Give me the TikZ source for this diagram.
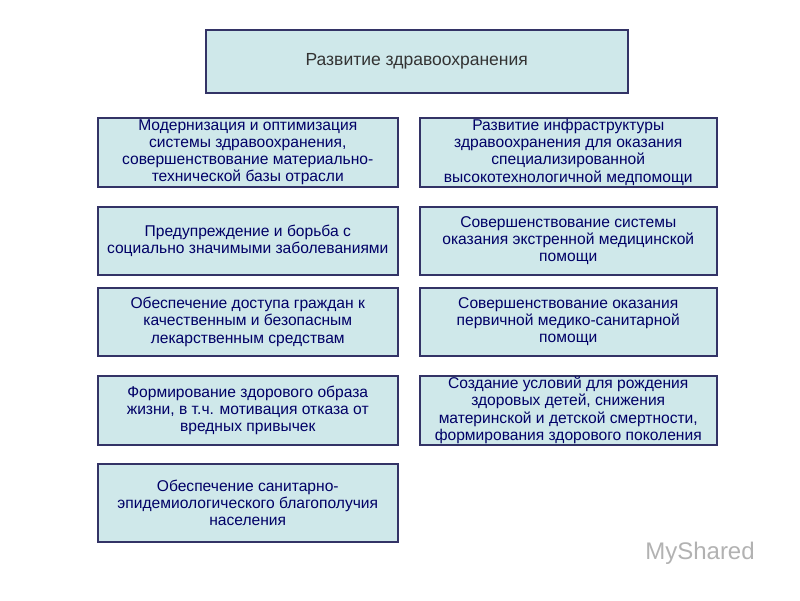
\documentclass[tikz,border=0pt]{standalone}
\usepackage{fontspec}
\setmainfont{Liberation Sans}
\begin{document}
\begin{tikzpicture}[x=1pt,y=-1pt,
  bx/.style={draw=blue!25!black!80,line width=1.5pt,fill=cyan!20!white!85!gray,text=blue!40!black,align=center,inner sep=0pt,anchor=north west,font=\fontsize{15.6}{17.2}\selectfont},
]
\useasboundingbox[fill=white] (0,0) rectangle (800,600);
\definecolor{fb}{HTML}{CFE8EA}
\tikzset{bx/.append style={fill=fb}}
\node[bx,minimum width=422pt,minimum height=63pt,text=black!80,font=\fontsize{17.5}{19}\selectfont] (t) at (205,29) {Развитие здравоохранения};
\node[bx,minimum width=300pt,minimum height=69pt] (l1) at (97,117) {Модернизация и оптимизация\\системы здравоохранения,\\совершенствование материально-\\технической базы отрасли};
\node[bx,minimum width=297pt,minimum height=69pt] (r1) at (419,117) {Развитие инфраструктуры\\здравоохранения для оказания\\специализированной\\высокотехнологичной медпомощи};
\node[bx,minimum width=300pt,minimum height=68pt] (l2) at (97,206) {Предупреждение и борьба с\\социально значимыми заболеваниями};
\node[bx,minimum width=297pt,minimum height=68pt] (r2) at (419,206) {Совершенствование системы\\оказания экстренной медицинской\\помощи};
\node[bx,minimum width=300pt,minimum height=68pt] (l3) at (97,287) {Обеспечение доступа граждан к\\качественным и безопасным\\лекарственным средствам};
\node[bx,minimum width=297pt,minimum height=68pt] (r3) at (419,287) {Совершенствование оказания\\первичной медико-санитарной\\помощи};
\node[bx,minimum width=300pt,minimum height=69pt] (l4) at (97,375) {Формирование здорового образа\\жизни, в т.ч. мотивация отказа от\\вредных привычек};
\node[bx,minimum width=297pt,minimum height=69pt] (r4) at (419,375) {Создание условий для рождения\\здоровых детей, снижения\\материнской и детской смертности,\\формирования здорового поколения};
\node[bx,minimum width=300pt,minimum height=78pt] (l5) at (97,463) {Обеспечение санитарно-\\эпидемиологического благополучия\\населения};
\node[text=gray!60,font=\fontsize{24}{24}\selectfont] (w) at (700,553) {MyShared};
\end{tikzpicture}
\end{document}
